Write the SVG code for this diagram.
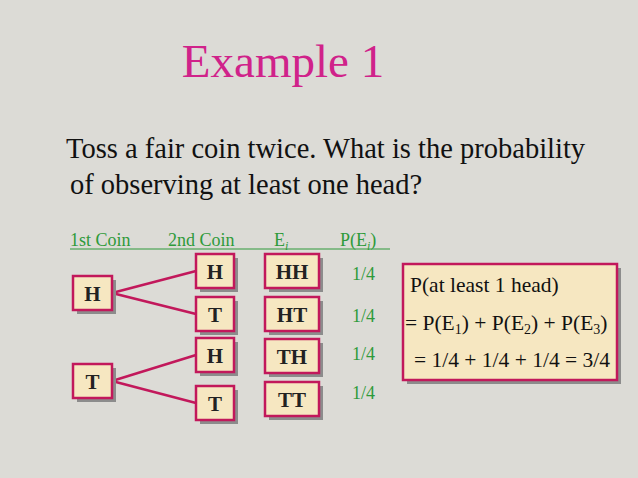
<svg xmlns="http://www.w3.org/2000/svg" width="638" height="478" viewBox="0 0 638 478">
<style>
.b{fill:#f6e7c1;stroke:#c2185b;stroke-width:2.5}
.s{fill:#8c8c8c}
.bt{font-family:"Liberation Serif",serif;font-weight:bold;font-size:21px;fill:#222;text-anchor:middle}
.g{font-family:"Liberation Serif",serif;font-size:18px;fill:#2e9a3a}
.k{font-family:"Liberation Serif",serif;fill:#111}
</style>
<rect width="638" height="478" fill="#dcdbd6"/>
<text x="283" y="77" font-family="Liberation Serif,serif" font-size="47" fill="#d0228a" text-anchor="middle">Example 1</text>
<text class="k" x="66" y="158" font-size="28.5">Toss a fair coin twice. What is the probability</text>
<text class="k" x="70" y="194" font-size="28.5">of observing at least one head?</text>
<g id="header">
<text class="g" x="70" y="246">1st Coin</text>
<text class="g" x="168" y="246">2nd Coin</text>
<text class="g" x="274" y="246">E<tspan font-style="italic" font-size="12" dy="4">i</tspan></text>
<text class="g" x="340" y="246">P(E<tspan font-style="italic" font-size="12" dy="4">i</tspan><tspan dy="-4">)</tspan></text>
<line x1="70" y1="249" x2="390" y2="249" stroke="#2e9a3a" stroke-width="1.2"/>
</g>
<g id="connectors" stroke="#c2185b" stroke-width="2.5">
<line x1="112" y1="293" x2="196" y2="271"/>
<line x1="112" y1="293" x2="196" y2="314"/>
<line x1="112" y1="381" x2="196" y2="355"/>
<line x1="112" y1="381" x2="196" y2="403"/>
</g>
<g id="c1H"><rect class="s" x="77" y="280" width="39" height="34"/><rect class="b" x="73" y="276" width="39" height="34"/><text class="bt" x="92.5" y="301">H</text></g>
<g id="c1T"><rect class="s" x="77" y="368" width="39" height="34"/><rect class="b" x="73" y="364" width="39" height="34"/><text class="bt" x="92.5" y="389">T</text></g>
<g id="c2H1"><rect class="s" x="200" y="258" width="38" height="34"/><rect class="b" x="196" y="254" width="38" height="34"/><text class="bt" x="215" y="279">H</text></g>
<g id="c2T1"><rect class="s" x="200" y="301" width="38" height="34"/><rect class="b" x="196" y="297" width="38" height="34"/><text class="bt" x="215" y="322">T</text></g>
<g id="c2H2"><rect class="s" x="200" y="342" width="38" height="34"/><rect class="b" x="196" y="338" width="38" height="34"/><text class="bt" x="215" y="363">H</text></g>
<g id="c2T2"><rect class="s" x="200" y="390" width="38" height="34"/><rect class="b" x="196" y="386" width="38" height="34"/><text class="bt" x="215" y="411">T</text></g>
<g id="eHH"><rect class="s" x="269" y="258" width="54" height="34"/><rect class="b" x="265" y="254" width="54" height="34"/><text class="bt" x="292" y="279">HH</text></g>
<g id="eHT"><rect class="s" x="269" y="301" width="54" height="34"/><rect class="b" x="265" y="297" width="54" height="34"/><text class="bt" x="292" y="322">HT</text></g>
<g id="eTH"><rect class="s" x="269" y="343" width="54" height="34"/><rect class="b" x="265" y="339" width="54" height="34"/><text class="bt" x="292" y="364">TH</text></g>
<g id="eTT"><rect class="s" x="269" y="386" width="54" height="34"/><rect class="b" x="265" y="382" width="54" height="34"/><text class="bt" x="292" y="407">TT</text></g>
<g id="probs">
<text class="g" x="352" y="280" font-size="20">1/4</text>
<text class="g" x="352" y="322" font-size="20">1/4</text>
<text class="g" x="352" y="360" font-size="20">1/4</text>
<text class="g" x="352" y="399" font-size="20">1/4</text>
</g>
<g id="result">
<rect class="s" x="407" y="268" width="214" height="116"/>
<rect class="b" x="403" y="264" width="214" height="116"/>
<text class="k" x="410" y="292" font-size="21.5">P(at least 1 head)</text>
<text class="k" x="405" y="330" font-size="21.5">= P(E<tspan font-size="14" dy="4">1</tspan><tspan dy="-4">) + P(E</tspan><tspan font-size="14" dy="4">2</tspan><tspan dy="-4">) + P(E</tspan><tspan font-size="14" dy="4">3</tspan><tspan dy="-4">)</tspan></text>
<text class="k" x="414" y="367" font-size="21.5">= 1/4 + 1/4 + 1/4 = 3/4</text>
</g>
</svg>
